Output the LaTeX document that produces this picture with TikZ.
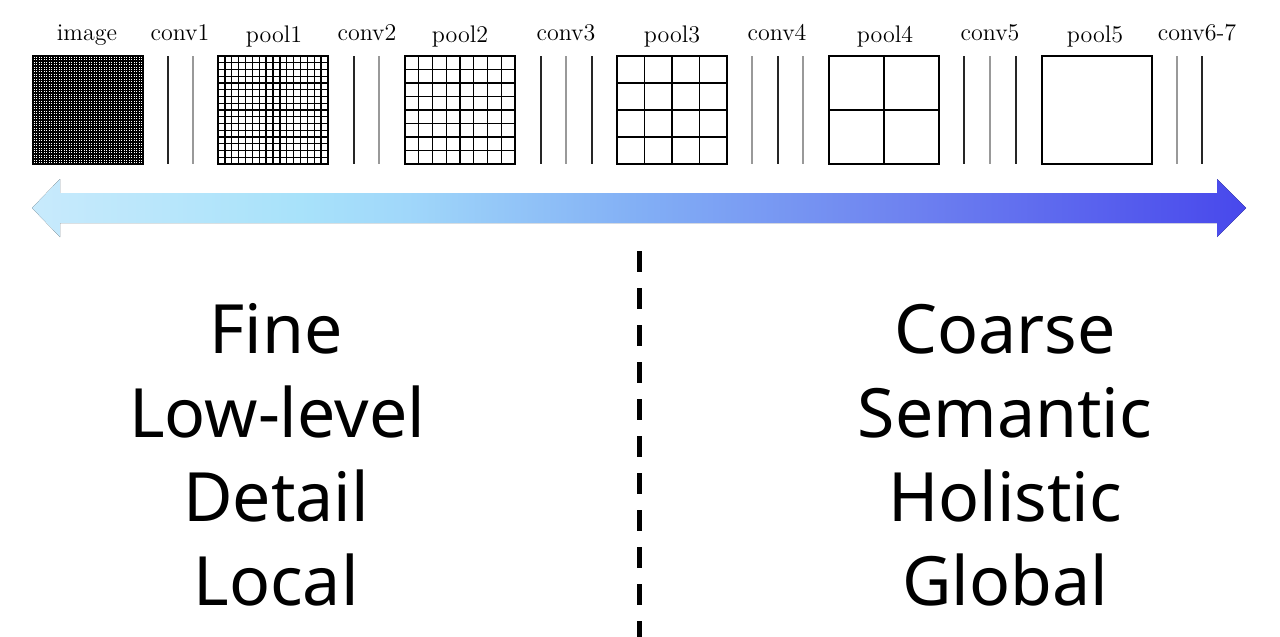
\documentclass[tikz,border=0pt]{standalone}
\usepackage{fontspec}
\newfontfamily\bigfont{Noto Sans}
\pgfdeclarehorizontalshading{arrowshade}{100bp}{rgb(0bp)=(0.784,0.918,0.988); rgb(25bp)=(0.784,0.918,0.988); rgb(36bp)=(0.659,0.886,0.98); rgb(40.5bp)=(0.627,0.843,0.98); rgb(50bp)=(0.51,0.686,0.961); rgb(61bp)=(0.431,0.51,0.941); rgb(75bp)=(0.282,0.282,0.925); rgb(100bp)=(0.282,0.282,0.925)}
\tikzset{
  gridline/.style={line width=0.7pt, black},
  boxline/.style={line width=0.8pt, black},
  convdark/.style={line width=0.7pt, black!85},
  convlight/.style={line width=1pt, black!40},
  toplabel/.style={anchor=base, inner sep=0pt, font=\fontsize{12}{14}\selectfont},
  bigtext/.style={anchor=base, inner sep=0pt, font=\bigfont\fontsize{34}{40}\selectfont},
  divider/.style={line width=2.5pt, black, dash pattern=on 10.5pt off 8pt}
}
\newcommand{\gridbox}[2]{%
  \foreach \k in {0,...,#2}{%
    \draw[gridline] ({#1+\k*110/#2},56) -- ({#1+\k*110/#2},164);
    \draw[gridline] (#1,{56+\k*108/#2}) -- ({#1+110},{56+\k*108/#2});
  }%
  \draw[boxline] (#1,56) rectangle ({#1+110},164);%
}
\newcommand{\convline}[2]{\draw[#2] (#1,56) -- (#1,164);}
\begin{document}
\begin{tikzpicture}[x=0.5pt,y=-0.5pt]
\useasboundingbox (0,0) rectangle (1280,637);
% labels
\node[toplabel] (limage) at (87,40) {image};
\node[toplabel] (lconv1) at (180,40) {conv1};
\node[toplabel] (lpool1) at (274,42) {pool1};
\node[toplabel] (lconv2) at (367,40) {conv2};
\node[toplabel] (lpool2) at (460,42) {pool2};
\node[toplabel] (lconv3) at (566,40) {conv3};
\node[toplabel] (lpool3) at (672,42) {pool3};
\node[toplabel] (lconv4) at (777,40) {conv4};
\node[toplabel] (lpool4) at (885,42) {pool4};
\node[toplabel] (lconv5) at (990,40) {conv5};
\node[toplabel] (lpool5) at (1095,42) {pool5};
\node[toplabel] (lconv67) at (1197,40) {conv6-7};
% grids
\gridbox{33}{44}
\gridbox{218}{16}
\gridbox{405}{8}
\gridbox{617}{4}
\gridbox{829}{2}
\gridbox{1042}{1}
% conv lines
\convline{168}{convdark}\convline{193}{convlight}
\convline{354}{convdark}\convline{379}{convlight}
\convline{541}{convdark}\convline{566}{convlight}\convline{592}{convdark}
\convline{752}{convlight}\convline{778}{convdark}\convline{803}{convlight}
\convline{964}{convdark}\convline{990}{convlight}\convline{1016}{convdark}
\convline{1177}{convlight}\convline{1202}{convdark}
% arrow
\fill[shading=arrowshade] (32,208) -- (60,179) -- (60,193) -- (1217,193) -- (1217,179) -- (1246,208) -- (1217,237) -- (1217,223) -- (60,223) -- (60,237) -- cycle;
% divider
\coordinate (dtop) at (639,251);
\coordinate (dbot) at (639,640);
\draw[divider] (dtop) -- (dbot);
% big text
\node[bigtext] (fine) at (276,353) {Fine};
\node[bigtext] (low) at (277,437) {Low-level};
\node[bigtext] (detail) at (276,521) {Detail};
\node[bigtext] (local) at (276,605) {Local};
\node[bigtext] (coarse) at (1005,353) {Coarse};
\node[bigtext] (semantic) at (1005,437) {Semantic};
\node[bigtext] (holistic) at (1005,521) {Holistic};
\node[bigtext] (global) at (1005,605) {Global};
\end{tikzpicture}
\end{document}
